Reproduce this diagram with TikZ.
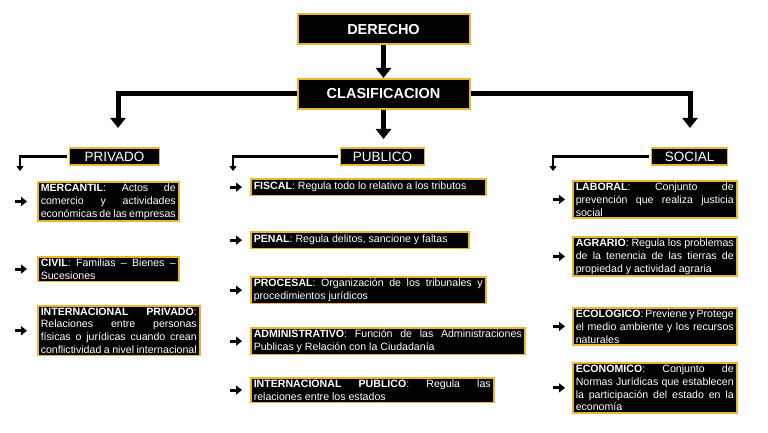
\documentclass[tikz,border=0pt]{standalone}
\usepackage{fontspec}
\setmainfont{Liberation Sans}
\usetikzlibrary{arrows.meta}
\definecolor{gold}{HTML}{EDB62A}
\hyphenpenalty=10000
\exhyphenpenalty=10000
\tikzset{x=1pt,y=-1pt,
 hbox/.style={draw=gold,line width=2pt,fill=black,text=white,font=\bfseries\fontsize{14.5}{16}\selectfont,inner sep=0pt},
 cbox/.style={draw=gold,line width=1.5pt,fill=black,text=white,font=\fontsize{13.5}{14}\selectfont,inner sep=0pt},
 tbox/.style={draw=gold,line width=1.5pt,fill=black,text=white,font=\fontsize{10.6}{12.8}\selectfont,align=justify,inner xsep=3pt,inner ysep=2pt,anchor=north west},
 big/.style={line width=5pt,-{Triangle[width=15pt,length=10pt]}},
 small/.style={line width=3pt,-{Triangle[width=9pt,length=6pt]}},
 brk/.style={line width=2.5pt,-{Triangle[width=7pt,length=5pt]}}}
\begin{document}
\hyphenpenalty=10000
\exhyphenpenalty=10000
\begin{tikzpicture}
\useasboundingbox (0,0) rectangle (768,433);
\node[hbox,minimum width=172,minimum height=30] (der) at (383.5,29.5) {DERECHO};
\node[hbox,minimum width=172,minimum height=30] (cla) at (383.5,94) {CLASIFICACION};
\draw[big] (der.south) -- (cla.north);
\coordinate (lt) at (118,128); \coordinate (rt) at (690,128); \coordinate (mt) at (383.5,139);
\draw[big] (cla.west) -| (lt);
\draw[big] (cla.east) -| (rt);
\draw[big] (cla.south) -- (mt);
\node[cbox,minimum width=90,minimum height=17] (pri) at (114.5,156.5) {PRIVADO};
\node[cbox,minimum width=84,minimum height=17] (pub) at (382.5,156.5) {PUBLICO};
\node[cbox,minimum width=76,minimum height=17] (soc) at (689.5,156.5) {SOCIAL};
\coordinate (pl) at (20,171); \coordinate (ul) at (233,171); \coordinate (sl) at (553,171);
\draw[brk] ([xshift=-2pt]pri.west) -| (pl);
\draw[brk] ([xshift=-2pt]pub.west) -| (ul);
\draw[brk] ([xshift=-2pt]soc.west) -| (sl);
% left
\node[tbox,text width=135] (b1) at (37,181) {\textbf{MERCANTIL}: Actos de comercio y actividades económicas de las empresas};
\node[tbox,text width=135] (b2) at (37,256) {\textbf{CIVIL}: Familias -- Bienes -- Sucesiones};
\node[tbox,text width=156] (b3) at (37,305) {\textbf{INTERNACIONAL PRIVADO}: Relaciones entre personas físicas o jurídicas cuando crean conflictividad a nivel internacional};
% middle
\node[tbox,text width=229] (m1) at (250,178) {\textbf{FISCAL}: Regula todo lo relativo a los tributos\strut};
\node[tbox,text width=212] (m2) at (250,231) {\textbf{PENAL}: Regula delitos, sancione y faltas\strut};
\node[tbox,text width=229] (m3) at (250,276) {\textbf{PROCESAL}: Organización de los tribunales y procedimientos jurídicos};
\node[tbox,text width=268] (m4) at (250,327) {\textbf{ADMINISTRATIVO}: Función de las Administraciones Publicas y Relación con la Ciudadanía};
\node[tbox,text width=237] (m5) at (250,377) {\textbf{INTERNACIONAL PUBLICO}: Regula las relaciones entre los estados};
% right
\node[tbox,text width=158] (r1) at (572,180) {\textbf{LABORAL}: Conjunto de prevención que realiza justicia social};
\node[tbox,text width=158] (r2) at (572,236) {\textbf{AGRARIO}: Regula los problemas de la tenencia de las tierras de propiedad y actividad agraria};
\node[tbox,text width=158] (r3) at (572,307) {\textbf{ECOLOGICO}: Previene y Protege el medio ambiente y los recursos naturales};
\node[tbox,text width=158] (r4) at (572,362) {\textbf{ECONOMICO}: Conjunto de Normas Jurídicas que establecen la participación del estado en la economía};
\foreach \n in {b1,b2,b3}{\coordinate (a\n) at ([xshift=-17pt]\n.west); \draw[small] ([xshift=-5pt]a\n) -- ([xshift=7pt]a\n);}
\foreach \n in {m1,m2,m3,m4,m5}{\coordinate (a\n) at ([xshift=-14pt]\n.west); \draw[small] ([xshift=-6pt]a\n) -- ([xshift=6pt]a\n);}
\foreach \n in {r1,r2,r3,r4}{\coordinate (a\n) at ([xshift=-13pt]\n.west); \draw[small] ([xshift=-6pt]a\n) -- ([xshift=6pt]a\n);}
\end{tikzpicture}
\end{document}
